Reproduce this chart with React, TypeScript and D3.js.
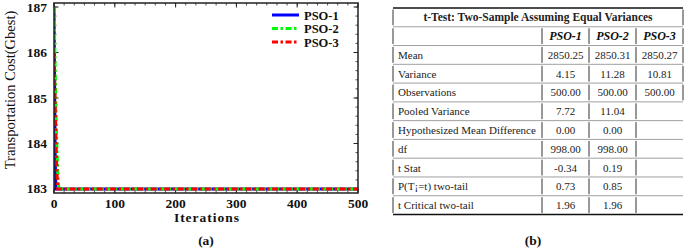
import React from "react";
import * as d3 from "d3";

// ---------- panel (a) data ----------
const seriesNames = ["PSO-1", "PSO-2", "PSO-3"];
const seriesColors = ["#0000ff", "#00ff00", "#ff0000"];
const pso1Iter = [0, 1, 2, 3, 500];
const pso1Cost = [187.0, 185.3, 183.7, 183.0, 183.0];
const pso2Iter = [0, 2, 4, 6, 8, 500];
const pso2Cost = [187.0, 185.6, 184.3, 183.4, 183.0, 183.0];
const pso3Iter = [0, 2, 4, 6, 500];
const pso3Cost = [186.0, 184.8, 183.7, 183.0, 183.0];
const xTicks = [0, 100, 200, 300, 400, 500];
const yTicks = [183, 184, 185, 186, 187];

// ---------- panel (b) data ----------
const tableTitle = "t-Test: Two-Sample Assuming Equal Variances";
const rowLabels = [
  "Mean",
  "Variance",
  "Observations",
  "Pooled Variance",
  "Hypothesized Mean Difference",
  "df",
  "t Stat",
  "P(T¡=t) two-tail",
  "t Critical two-tail",
];
const pso1Vals = ["2850.25", "4.15", "500.00", "7.72", "0.00", "998.00", "-0.34", "0.73", "1.96"];
const pso2Vals = ["2850.31", "11.28", "500.00", "11.04", "0.00", "998.00", "0.19", "0.85", "1.96"];
const pso3Vals = ["2850.27", "10.81", "500.00", "", "", "", "", "", ""];

const serif = "'Liberation Serif', 'DejaVu Serif', serif";

function ConvergenceChart() {
  const left = 54, right = 358, top = 3, bottom = 193;
  const x = d3.scaleLinear().domain([0, 500]).range([left, right]);
  const y = d3.scaleLinear().domain([182.912, 187.088]).range([bottom, top]);
  const series = [
    { iters: pso1Iter, vals: pso1Cost },
    { iters: pso2Iter, vals: pso2Cost },
    { iters: pso3Iter, vals: pso3Cost },
  ];
  const line = d3
    .line<[number, number]>()
    .x((d) => x(d[0]))
    .y((d) => y(d[1]));
  const dashes = [undefined, "6,2.5,2.5,2.5", "6,2.5,2.5,2.5"];
  const xMinor = d3.range(0, 500, 100 / 6);
  const yMinor = d3.range(183, 187.01, 0.2);
  const ink = "#222";
  return (
    <g>
      <defs>
        <clipPath id="plotclip">
          <rect x={left} y={top} width={right - left} height={bottom - top} />
        </clipPath>
      </defs>
      {xMinor.map((t, i) => (
        <g key={"xm" + i} stroke={ink} strokeWidth={0.8}>
          <line x1={x(t)} x2={x(t)} y1={bottom} y2={bottom - 2.5} />
          <line x1={x(t)} x2={x(t)} y1={top} y2={top + 2.5} />
        </g>
      ))}
      {yMinor.map((t, i) => (
        <g key={"ym" + i} stroke={ink} strokeWidth={0.8}>
          <line x1={left} x2={left + 2.5} y1={y(t)} y2={y(t)} />
          <line x1={right} x2={right - 2.5} y1={y(t)} y2={y(t)} />
        </g>
      ))}
      {xTicks.map((t) => (
        <g key={"xt" + t}>
          <line x1={x(t)} x2={x(t)} y1={bottom} y2={bottom - 4.5} stroke={ink} />
          <line x1={x(t)} x2={x(t)} y1={top} y2={top + 4.5} stroke={ink} />
          <text x={x(t)} y={bottom + 15} textAnchor="middle" fontFamily={serif} fontSize={13.5} fontWeight="bold" fill="#111">
            {t}
          </text>
        </g>
      ))}
      {yTicks.map((t) => (
        <g key={"yt" + t}>
          <line x1={left} x2={left + 4.5} y1={y(t)} y2={y(t)} stroke={ink} />
          <line x1={right} x2={right - 4.5} y1={y(t)} y2={y(t)} stroke={ink} />
          <text x={left - 7} y={y(t) + 4.5} textAnchor="end" fontFamily={serif} fontSize={13.5} fontWeight="bold" fill="#111">
            {t}
          </text>
        </g>
      ))}
      <g clipPath="url(#plotclip)">
        {series.map((s, i) => (
          <path
            key={i}
            d={line(s.iters.map((it, j) => [it, s.vals[j]] as [number, number])) || ""}
            fill="none"
            stroke={seriesColors[i]}
            strokeWidth={3}
            strokeDasharray={dashes[i]}
          />
        ))}
      </g>
      <rect x={left} y={top} width={right - left} height={bottom - top} fill="none" stroke={ink} strokeWidth={1.5} />
      {seriesNames.map((n, i) => {
        const ly = 15 + i * 13.5;
        return (
          <g key={n}>
            <line x1={272} x2={299} y1={ly} y2={ly} stroke={seriesColors[i]} strokeWidth={3} strokeDasharray={dashes[i]} />
            <text x={304} y={ly + 4.5} fontFamily={serif} fontSize={12.5} fontWeight="bold" fill="#111">
              {n}
            </text>
          </g>
        );
      })}
      <text x={207} y={222} textAnchor="middle" fontFamily={serif} fontSize={13.5} fontWeight="bold" letterSpacing={1} fill="#111">
        Iterations
      </text>
      <text
        transform={`translate(15,${(top + bottom) / 2 - 8}) rotate(-90)`}
        textAnchor="middle"
        fontFamily={serif}
        fontSize={14.5}
        fill="#111"
      >
        Transportation Cost(Gbest)
      </text>
      <text x={206} y={245} textAnchor="middle" fontFamily={serif} fontSize={13.5} fontWeight="bold" fill="#111">
        (a)
      </text>
    </g>
  );
}

function TTestTable() {
  const x0 = 393, xLab = 542, colW = 47;
  const rowKeys = ["title", "header", ...rowLabels];
  const rows = d3.scaleBand<string>().domain(rowKeys).range([8, 214.5]);
  const bw = rows.bandwidth();
  const cols = d3.scaleBand<string>().domain(seriesNames).range([xLab, xLab + 3 * colW]);
  const colVals = [pso1Vals, pso2Vals, pso3Vals];
  const xEnd = xLab + 3 * colW;
  const bar = "#333";
  const vbar = (key: string, xx: number) => {
    const yy = rows(key)!;
    return <line key={key + xx} x1={xx} x2={xx} y1={yy + 1.5} y2={yy + bw - 1.5} stroke={bar} strokeWidth={1} />;
  };
  const hasLast = (i: number) => pso3Vals[i] !== "";
  return (
    <g>
      <line x1={x0} x2={xEnd} y1={8} y2={8} stroke="#111" strokeWidth={1.6} />
      {rowKeys.slice(1).map((k) => (
        <line key={"h" + k} x1={x0} x2={xEnd} y1={rows(k)!} y2={rows(k)!} stroke="#888" strokeWidth={0.8} />
      ))}
      <line x1={x0} x2={xEnd} y1={214.5} y2={214.5} stroke="#111" strokeWidth={1.6} />
      {vbar("title", x0)}
      {vbar("title", xEnd)}
      <text x={(x0 + xEnd) / 2} y={rows("title")! + bw / 2 + 4} textAnchor="middle" fontFamily={serif} fontSize={11.5} fontWeight="bold" fill="#222">
        {tableTitle}
      </text>
      {vbar("header", x0)}
      {vbar("header", xLab)}
      {seriesNames.map((n) => vbar("header", cols(n)! + colW))}
      {seriesNames.map((n) => (
        <text key={"hd" + n} x={cols(n)! + colW / 2} y={rows("header")! + bw / 2 + 4} textAnchor="middle" fontFamily={serif} fontSize={12} fontWeight="bold" fontStyle="italic" fill="#111">
          {n}
        </text>
      ))}
      {rowLabels.map((lab, i) => {
        const cy = rows(lab)! + bw / 2 + 4;
        return (
          <g key={lab}>
            {vbar(lab, x0)}
            {vbar(lab, xLab)}
            {vbar(lab, xLab + colW)}
            {vbar(lab, xLab + 2 * colW)}
            {hasLast(i) ? vbar(lab, xEnd) : null}
            <text x={x0 + 5} y={cy} fontFamily={serif} fontSize={11} fill="#222">
              {lab}
            </text>
            {seriesNames.map((n, j) =>
              colVals[j][i] ? (
                <text key={n} x={cols(n)! + colW / 2} y={cy} textAnchor="middle" fontFamily={serif} fontSize={11} fill="#222">
                  {colVals[j][i]}
                </text>
              ) : null
            )}
          </g>
        );
      })}
      <text x={533} y={245} textAnchor="middle" fontFamily={serif} fontSize={13.5} fontWeight="bold" fill="#111">
        (b)
      </text>
    </g>
  );
}

export default function App() {
  return (
    <svg width={685} height={250} style={{ position: "absolute", left: 0, top: 0, background: "#fff" }}>
      <rect width={685} height={250} fill="#fff" />
      <ConvergenceChart />
      <TTestTable />
    </svg>
  );
}
